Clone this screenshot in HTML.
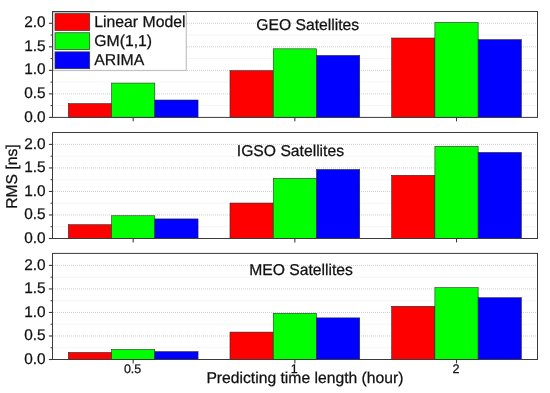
<!DOCTYPE html>
<html><head><meta charset="utf-8"><title>RMS chart</title>
<style>html,body{margin:0;padding:0;background:#fff}svg{display:block}text{stroke:#111;stroke-width:0.25px;text-rendering:geometricPrecision;font-family:"Liberation Sans",Arial,sans-serif;fill:#111}</style></head><body>
<svg width="550" height="393" viewBox="0 0 550 393">
<rect width="550" height="393" fill="#fff"/>
<line x1="52.50" y1="105.64" x2="537.50" y2="105.64" stroke="#f5f5f5" stroke-width="1"/>
<line x1="53.00" y1="93.88" x2="537.50" y2="93.88" stroke="#cfcfcf" stroke-width="1" stroke-dasharray="1 1"/>
<line x1="52.50" y1="82.11" x2="537.50" y2="82.11" stroke="#f5f5f5" stroke-width="1"/>
<line x1="53.00" y1="70.35" x2="537.50" y2="70.35" stroke="#cfcfcf" stroke-width="1" stroke-dasharray="1 1"/>
<line x1="52.50" y1="58.59" x2="537.50" y2="58.59" stroke="#f5f5f5" stroke-width="1"/>
<line x1="53.00" y1="46.83" x2="537.50" y2="46.83" stroke="#cfcfcf" stroke-width="1" stroke-dasharray="1 1"/>
<line x1="52.50" y1="35.06" x2="537.50" y2="35.06" stroke="#f5f5f5" stroke-width="1"/>
<line x1="53.00" y1="23.30" x2="537.50" y2="23.30" stroke="#cfcfcf" stroke-width="1" stroke-dasharray="1 1"/>
<rect x="68.31" y="103.59" width="43.25" height="13.81" fill="#ff0000" stroke="#222" stroke-width="0.55"/>
<rect x="111.56" y="83.07" width="43.25" height="34.33" fill="#00ff00" stroke="#222" stroke-width="0.55"/>
<rect x="154.81" y="100.01" width="43.25" height="17.39" fill="#0000ff" stroke="#222" stroke-width="0.55"/>
<rect x="229.98" y="70.65" width="43.25" height="46.75" fill="#ff0000" stroke="#222" stroke-width="0.55"/>
<rect x="273.23" y="48.82" width="43.25" height="68.58" fill="#00ff00" stroke="#222" stroke-width="0.55"/>
<rect x="316.48" y="55.45" width="43.25" height="61.95" fill="#0000ff" stroke="#222" stroke-width="0.55"/>
<rect x="391.64" y="38.00" width="43.25" height="79.40" fill="#ff0000" stroke="#222" stroke-width="0.55"/>
<rect x="434.89" y="22.38" width="43.25" height="95.02" fill="#00ff00" stroke="#222" stroke-width="0.55"/>
<rect x="478.14" y="39.60" width="43.25" height="77.80" fill="#0000ff" stroke="#222" stroke-width="0.55"/>
<line x1="52.50" y1="226.74" x2="537.50" y2="226.74" stroke="#f5f5f5" stroke-width="1"/>
<line x1="53.00" y1="214.97" x2="537.50" y2="214.97" stroke="#cfcfcf" stroke-width="1" stroke-dasharray="1 1"/>
<line x1="52.50" y1="203.21" x2="537.50" y2="203.21" stroke="#f5f5f5" stroke-width="1"/>
<line x1="53.00" y1="191.45" x2="537.50" y2="191.45" stroke="#cfcfcf" stroke-width="1" stroke-dasharray="1 1"/>
<line x1="52.50" y1="179.69" x2="537.50" y2="179.69" stroke="#f5f5f5" stroke-width="1"/>
<line x1="53.00" y1="167.93" x2="537.50" y2="167.93" stroke="#cfcfcf" stroke-width="1" stroke-dasharray="1 1"/>
<line x1="52.50" y1="156.16" x2="537.50" y2="156.16" stroke="#f5f5f5" stroke-width="1"/>
<line x1="53.00" y1="144.40" x2="537.50" y2="144.40" stroke="#cfcfcf" stroke-width="1" stroke-dasharray="1 1"/>
<rect x="68.31" y="224.69" width="43.25" height="13.81" fill="#ff0000" stroke="#222" stroke-width="0.55"/>
<rect x="111.56" y="215.75" width="43.25" height="22.75" fill="#00ff00" stroke="#222" stroke-width="0.55"/>
<rect x="154.81" y="218.92" width="43.25" height="19.58" fill="#0000ff" stroke="#222" stroke-width="0.55"/>
<rect x="229.98" y="203.04" width="43.25" height="35.46" fill="#ff0000" stroke="#222" stroke-width="0.55"/>
<rect x="273.23" y="178.34" width="43.25" height="60.16" fill="#00ff00" stroke="#222" stroke-width="0.55"/>
<rect x="316.48" y="169.50" width="43.25" height="69.00" fill="#0000ff" stroke="#222" stroke-width="0.55"/>
<rect x="391.64" y="175.28" width="43.25" height="63.22" fill="#ff0000" stroke="#222" stroke-width="0.55"/>
<rect x="434.89" y="146.30" width="43.25" height="92.20" fill="#00ff00" stroke="#222" stroke-width="0.55"/>
<rect x="478.14" y="152.42" width="43.25" height="86.08" fill="#0000ff" stroke="#222" stroke-width="0.55"/>
<line x1="52.50" y1="347.74" x2="537.50" y2="347.74" stroke="#f5f5f5" stroke-width="1"/>
<line x1="53.00" y1="335.98" x2="537.50" y2="335.98" stroke="#cfcfcf" stroke-width="1" stroke-dasharray="1 1"/>
<line x1="52.50" y1="324.21" x2="537.50" y2="324.21" stroke="#f5f5f5" stroke-width="1"/>
<line x1="53.00" y1="312.45" x2="537.50" y2="312.45" stroke="#cfcfcf" stroke-width="1" stroke-dasharray="1 1"/>
<line x1="52.50" y1="300.69" x2="537.50" y2="300.69" stroke="#f5f5f5" stroke-width="1"/>
<line x1="53.00" y1="288.93" x2="537.50" y2="288.93" stroke="#cfcfcf" stroke-width="1" stroke-dasharray="1 1"/>
<line x1="52.50" y1="277.16" x2="537.50" y2="277.16" stroke="#f5f5f5" stroke-width="1"/>
<line x1="53.00" y1="265.40" x2="537.50" y2="265.40" stroke="#cfcfcf" stroke-width="1" stroke-dasharray="1 1"/>
<rect x="68.31" y="352.41" width="43.25" height="7.09" fill="#ff0000" stroke="#222" stroke-width="0.55"/>
<rect x="111.56" y="349.45" width="43.25" height="10.05" fill="#00ff00" stroke="#222" stroke-width="0.55"/>
<rect x="154.81" y="351.61" width="43.25" height="7.89" fill="#0000ff" stroke="#222" stroke-width="0.55"/>
<rect x="229.98" y="332.09" width="43.25" height="27.41" fill="#ff0000" stroke="#222" stroke-width="0.55"/>
<rect x="273.23" y="313.27" width="43.25" height="46.23" fill="#00ff00" stroke="#222" stroke-width="0.55"/>
<rect x="316.48" y="317.88" width="43.25" height="41.62" fill="#0000ff" stroke="#222" stroke-width="0.55"/>
<rect x="391.64" y="306.26" width="43.25" height="53.24" fill="#ff0000" stroke="#222" stroke-width="0.55"/>
<rect x="434.89" y="287.63" width="43.25" height="71.87" fill="#00ff00" stroke="#222" stroke-width="0.55"/>
<rect x="478.14" y="297.69" width="43.25" height="61.81" fill="#0000ff" stroke="#222" stroke-width="0.55"/>
<rect x="53.0" y="12.4" width="133.3" height="58.1" fill="#fff" stroke="#c2c2c2" stroke-width="1.2"/>
<rect x="55" y="13.65" width="34.7" height="16.85" fill="#ff0000" stroke="#333" stroke-width="0.7"/>
<text x="94.2" y="26.70" font-size="15.8">Linear Model</text>
<rect x="55" y="32.75" width="34.7" height="16.85" fill="#00ff00" stroke="#333" stroke-width="0.7"/>
<text x="94.2" y="45.90" font-size="15.8">GM(1,1)</text>
<rect x="55" y="51.85" width="34.7" height="16.85" fill="#0000ff" stroke="#333" stroke-width="0.7"/>
<text x="94.2" y="65.10" font-size="15.8">ARIMA</text>
<rect x="52.50" y="11.50" width="485.00" height="105.90" fill="none" stroke="#3a3a3a" stroke-width="1"/>
<line x1="48.90" y1="117.40" x2="52.50" y2="117.40" stroke="#3a3a3a" stroke-width="1.1"/>
<text x="45.7" y="121.50" font-size="15.4" text-anchor="end">0.0</text>
<line x1="50.50" y1="105.64" x2="52.50" y2="105.64" stroke="#3a3a3a" stroke-width="1"/>
<line x1="48.90" y1="93.88" x2="52.50" y2="93.88" stroke="#3a3a3a" stroke-width="1.1"/>
<text x="45.7" y="97.97" font-size="15.4" text-anchor="end">0.5</text>
<line x1="50.50" y1="82.11" x2="52.50" y2="82.11" stroke="#3a3a3a" stroke-width="1"/>
<line x1="48.90" y1="70.35" x2="52.50" y2="70.35" stroke="#3a3a3a" stroke-width="1.1"/>
<text x="45.7" y="74.45" font-size="15.4" text-anchor="end">1.0</text>
<line x1="50.50" y1="58.59" x2="52.50" y2="58.59" stroke="#3a3a3a" stroke-width="1"/>
<line x1="48.90" y1="46.83" x2="52.50" y2="46.83" stroke="#3a3a3a" stroke-width="1.1"/>
<text x="45.7" y="50.93" font-size="15.4" text-anchor="end">1.5</text>
<line x1="50.50" y1="35.06" x2="52.50" y2="35.06" stroke="#3a3a3a" stroke-width="1"/>
<line x1="48.90" y1="23.30" x2="52.50" y2="23.30" stroke="#3a3a3a" stroke-width="1.1"/>
<text x="45.7" y="27.40" font-size="15.4" text-anchor="end">2.0</text>
<line x1="133.18" y1="117.40" x2="133.18" y2="121.30" stroke="#3a3a3a" stroke-width="1.1"/>
<line x1="294.85" y1="117.40" x2="294.85" y2="121.30" stroke="#3a3a3a" stroke-width="1.1"/>
<line x1="456.52" y1="117.40" x2="456.52" y2="121.30" stroke="#3a3a3a" stroke-width="1.1"/>
<text x="256.30" y="30.40" font-size="15.7">GEO Satellites</text>
<rect x="52.50" y="132.50" width="485.00" height="106.00" fill="none" stroke="#3a3a3a" stroke-width="1"/>
<line x1="48.90" y1="238.50" x2="52.50" y2="238.50" stroke="#3a3a3a" stroke-width="1.1"/>
<text x="45.7" y="242.60" font-size="15.4" text-anchor="end">0.0</text>
<line x1="50.50" y1="226.74" x2="52.50" y2="226.74" stroke="#3a3a3a" stroke-width="1"/>
<line x1="48.90" y1="214.97" x2="52.50" y2="214.97" stroke="#3a3a3a" stroke-width="1.1"/>
<text x="45.7" y="219.07" font-size="15.4" text-anchor="end">0.5</text>
<line x1="50.50" y1="203.21" x2="52.50" y2="203.21" stroke="#3a3a3a" stroke-width="1"/>
<line x1="48.90" y1="191.45" x2="52.50" y2="191.45" stroke="#3a3a3a" stroke-width="1.1"/>
<text x="45.7" y="195.55" font-size="15.4" text-anchor="end">1.0</text>
<line x1="50.50" y1="179.69" x2="52.50" y2="179.69" stroke="#3a3a3a" stroke-width="1"/>
<line x1="48.90" y1="167.93" x2="52.50" y2="167.93" stroke="#3a3a3a" stroke-width="1.1"/>
<text x="45.7" y="172.03" font-size="15.4" text-anchor="end">1.5</text>
<line x1="50.50" y1="156.16" x2="52.50" y2="156.16" stroke="#3a3a3a" stroke-width="1"/>
<line x1="48.90" y1="144.40" x2="52.50" y2="144.40" stroke="#3a3a3a" stroke-width="1.1"/>
<text x="45.7" y="148.50" font-size="15.4" text-anchor="end">2.0</text>
<line x1="133.18" y1="238.50" x2="133.18" y2="242.40" stroke="#3a3a3a" stroke-width="1.1"/>
<line x1="294.85" y1="238.50" x2="294.85" y2="242.40" stroke="#3a3a3a" stroke-width="1.1"/>
<line x1="456.52" y1="238.50" x2="456.52" y2="242.40" stroke="#3a3a3a" stroke-width="1.1"/>
<text x="236.80" y="156.40" font-size="15.7">IGSO Satellites</text>
<rect x="52.50" y="253.40" width="485.00" height="106.10" fill="none" stroke="#3a3a3a" stroke-width="1"/>
<line x1="48.90" y1="359.50" x2="52.50" y2="359.50" stroke="#3a3a3a" stroke-width="1.1"/>
<text x="45.7" y="363.60" font-size="15.4" text-anchor="end">0.0</text>
<line x1="50.50" y1="347.74" x2="52.50" y2="347.74" stroke="#3a3a3a" stroke-width="1"/>
<line x1="48.90" y1="335.98" x2="52.50" y2="335.98" stroke="#3a3a3a" stroke-width="1.1"/>
<text x="45.7" y="340.08" font-size="15.4" text-anchor="end">0.5</text>
<line x1="50.50" y1="324.21" x2="52.50" y2="324.21" stroke="#3a3a3a" stroke-width="1"/>
<line x1="48.90" y1="312.45" x2="52.50" y2="312.45" stroke="#3a3a3a" stroke-width="1.1"/>
<text x="45.7" y="316.55" font-size="15.4" text-anchor="end">1.0</text>
<line x1="50.50" y1="300.69" x2="52.50" y2="300.69" stroke="#3a3a3a" stroke-width="1"/>
<line x1="48.90" y1="288.93" x2="52.50" y2="288.93" stroke="#3a3a3a" stroke-width="1.1"/>
<text x="45.7" y="293.03" font-size="15.4" text-anchor="end">1.5</text>
<line x1="50.50" y1="277.16" x2="52.50" y2="277.16" stroke="#3a3a3a" stroke-width="1"/>
<line x1="48.90" y1="265.40" x2="52.50" y2="265.40" stroke="#3a3a3a" stroke-width="1.1"/>
<text x="45.7" y="269.50" font-size="15.4" text-anchor="end">2.0</text>
<line x1="133.18" y1="359.50" x2="133.18" y2="363.40" stroke="#3a3a3a" stroke-width="1.1"/>
<line x1="294.85" y1="359.50" x2="294.85" y2="363.40" stroke="#3a3a3a" stroke-width="1.1"/>
<line x1="456.52" y1="359.50" x2="456.52" y2="363.40" stroke="#3a3a3a" stroke-width="1.1"/>
<text x="249.20" y="274.60" font-size="15.7">MEO Satellites</text>
<text x="132.58" y="373.4" font-size="12.5" text-anchor="middle">0.5</text>
<text x="294.25" y="373.4" font-size="12.5" text-anchor="middle">1</text>
<text x="455.92" y="373.4" font-size="12.5" text-anchor="middle">2</text>
<text x="206.4" y="383.3" font-size="15.7">Predicting time length (hour)</text>
<text transform="translate(17.4 208.8) rotate(-90)" font-size="15.7">RMS [ns]</text>
</svg></body></html>
